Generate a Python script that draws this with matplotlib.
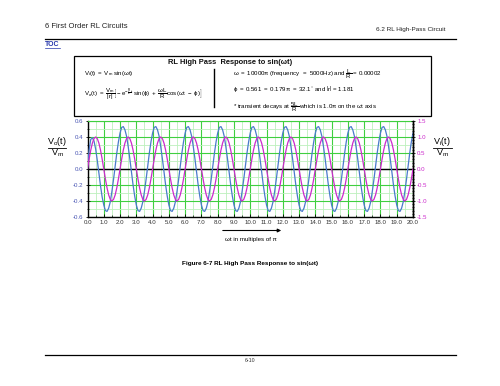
import numpy as np
import matplotlib
matplotlib.use('Agg')
import matplotlib.pyplot as plt
from matplotlib.lines import Line2D
from matplotlib.patches import Rectangle
from matplotlib.ticker import FixedLocator, FixedFormatter, MultipleLocator

plt.rcParams['font.family'] = ['Liberation Sans', 'DejaVu Sans']
plt.rcParams['mathtext.fontset'] = 'custom'
plt.rcParams['mathtext.rm'] = 'Liberation Sans'
plt.rcParams['mathtext.it'] = 'Liberation Sans'
plt.rcParams['mathtext.bf'] = 'Liberation Sans:bold'
plt.rcParams['mathtext.sf'] = 'Liberation Sans'
plt.rcParams['axes.unicode_minus'] = False

# ---------------- data ----------------
# omega*t in multiples of pi, sampled every 0.1
wt = np.linspace(0.0, 20.0, 201)

# Vo(t)/Vm  (left axis)
vo = [
    0.00, 0.24, 0.37, 0.39, 0.35, 0.25, 0.11, -0.05, -0.21, -0.35, -0.45, -0.52, -0.53, -0.49, -0.41, -0.28, -0.13, 0.04, 0.20, 0.34,
    0.45, 0.52, 0.53, 0.49, 0.41, 0.28, 0.13, -0.04, -0.20, -0.34, -0.45, -0.52, -0.53, -0.49, -0.41, -0.28, -0.13, 0.04, 0.20, 0.34,
    0.45, 0.52, 0.53, 0.49, 0.41, 0.28, 0.13, -0.04, -0.20, -0.34, -0.45, -0.52, -0.53, -0.49, -0.41, -0.28, -0.13, 0.04, 0.20, 0.34,
    0.45, 0.52, 0.53, 0.49, 0.41, 0.28, 0.13, -0.04, -0.20, -0.34, -0.45, -0.52, -0.53, -0.49, -0.41, -0.28, -0.13, 0.04, 0.20, 0.34,
    0.45, 0.52, 0.53, 0.49, 0.41, 0.28, 0.13, -0.04, -0.20, -0.34, -0.45, -0.52, -0.53, -0.49, -0.41, -0.28, -0.13, 0.04, 0.20, 0.34,
    0.45, 0.52, 0.53, 0.49, 0.41, 0.28, 0.13, -0.04, -0.20, -0.34, -0.45, -0.52, -0.53, -0.49, -0.41, -0.28, -0.13, 0.04, 0.20, 0.34,
    0.45, 0.52, 0.53, 0.49, 0.41, 0.28, 0.13, -0.04, -0.20, -0.34, -0.45, -0.52, -0.53, -0.49, -0.41, -0.28, -0.13, 0.04, 0.20, 0.34,
    0.45, 0.52, 0.53, 0.49, 0.41, 0.28, 0.13, -0.04, -0.20, -0.34, -0.45, -0.52, -0.53, -0.49, -0.41, -0.28, -0.13, 0.04, 0.20, 0.34,
    0.45, 0.52, 0.53, 0.49, 0.41, 0.28, 0.13, -0.04, -0.20, -0.34, -0.45, -0.52, -0.53, -0.49, -0.41, -0.28, -0.13, 0.04, 0.20, 0.34,
    0.45, 0.52, 0.53, 0.49, 0.41, 0.28, 0.13, -0.04, -0.20, -0.34, -0.45, -0.52, -0.53, -0.49, -0.41, -0.28, -0.13, 0.04, 0.20, 0.34,
    0.45,
]

# Vi(t)/Vm  (right axis)
vi = [
    0.00, 0.31, 0.59, 0.81, 0.95, 1.00, 0.95, 0.81, 0.59, 0.31, 0.00, -0.31, -0.59, -0.81, -0.95, -1.00, -0.95, -0.81, -0.59, -0.31,
    0.00, 0.31, 0.59, 0.81, 0.95, 1.00, 0.95, 0.81, 0.59, 0.31, 0.00, -0.31, -0.59, -0.81, -0.95, -1.00, -0.95, -0.81, -0.59, -0.31,
    0.00, 0.31, 0.59, 0.81, 0.95, 1.00, 0.95, 0.81, 0.59, 0.31, 0.00, -0.31, -0.59, -0.81, -0.95, -1.00, -0.95, -0.81, -0.59, -0.31,
    0.00, 0.31, 0.59, 0.81, 0.95, 1.00, 0.95, 0.81, 0.59, 0.31, 0.00, -0.31, -0.59, -0.81, -0.95, -1.00, -0.95, -0.81, -0.59, -0.31,
    0.00, 0.31, 0.59, 0.81, 0.95, 1.00, 0.95, 0.81, 0.59, 0.31, 0.00, -0.31, -0.59, -0.81, -0.95, -1.00, -0.95, -0.81, -0.59, -0.31,
    0.00, 0.31, 0.59, 0.81, 0.95, 1.00, 0.95, 0.81, 0.59, 0.31, 0.00, -0.31, -0.59, -0.81, -0.95, -1.00, -0.95, -0.81, -0.59, -0.31,
    0.00, 0.31, 0.59, 0.81, 0.95, 1.00, 0.95, 0.81, 0.59, 0.31, 0.00, -0.31, -0.59, -0.81, -0.95, -1.00, -0.95, -0.81, -0.59, -0.31,
    0.00, 0.31, 0.59, 0.81, 0.95, 1.00, 0.95, 0.81, 0.59, 0.31, 0.00, -0.31, -0.59, -0.81, -0.95, -1.00, -0.95, -0.81, -0.59, -0.31,
    0.00, 0.31, 0.59, 0.81, 0.95, 1.00, 0.95, 0.81, 0.59, 0.31, 0.00, -0.31, -0.59, -0.81, -0.95, -1.00, -0.95, -0.81, -0.59, -0.31,
    0.00, 0.31, 0.59, 0.81, 0.95, 1.00, 0.95, 0.81, 0.59, 0.31, 0.00, -0.31, -0.59, -0.81, -0.95, -1.00, -0.95, -0.81, -0.59, -0.31,
    0.00,
]

x_ticks = [0, 1, 2, 3, 4, 5, 6, 7, 8, 9, 10, 11, 12, 13, 14, 15, 16, 17, 18, 19, 20]
x_tick_labels = ['0.0', '1.0', '2.0', '3.0', '4.0', '5.0', '6.0', '7.0', '8.0', '9.0', '10.0',
                 '11.0', '12.0', '13.0', '14.0', '15.0', '16.0', '17.0', '18.0', '19.0', '20.0']
left_ticks = [-0.6, -0.4, -0.2, 0.0, 0.2, 0.4, 0.6]
left_tick_labels = ['-0.6', '-0.4', '-0.2', '0.0', '0.2', '0.4', '0.6']
right_ticks = [-1.5, -1.0, -0.5, 0.0, 0.5, 1.0, 1.5]
right_tick_labels = ['-1.5', '-1.0', '-0.5', '0.0', '0.5', '1.0', '1.5']

# ---------------- figure ----------------
W, H = 500, 386
fig = plt.figure(figsize=(W / 100, H / 100), dpi=100)
fig.patch.set_facecolor('white')


def fx(px):
    return px / W


def fy(py):
    return 1 - py / H


BLUE = '#4a7acc'
MAG = '#cc2acc'
GMAJ = '#3fcf3f'
GMIN = '#bdf0bd'
LBL_BLUE = '#4a56b4'

ax = fig.add_axes([fx(87.5), fy(217), (413 - 87.5) / W, (217 - 121) / H])
ax.set_xlim(0, 20)
ax.set_ylim(-0.6, 0.6)

ax.xaxis.set_major_locator(FixedLocator(x_ticks))
ax.xaxis.set_major_formatter(FixedFormatter(x_tick_labels))
ax.xaxis.set_minor_locator(MultipleLocator(0.5))
ax.yaxis.set_major_locator(FixedLocator(left_ticks))
ax.yaxis.set_major_formatter(FixedFormatter(left_tick_labels))
ax.yaxis.set_minor_locator(MultipleLocator(0.1))

ax.grid(which='minor', color=GMIN, lw=0.6, zorder=0)
ax.grid(which='major', color=GMAJ, lw=0.8, zorder=0)
ax.set_axisbelow(True)
ax.axhline(0, color='black', lw=1.0, zorder=2)

ax.plot(wt, vo, color=BLUE, lw=0.9, zorder=3)

for side in ['left', 'bottom', 'right']:
    ax.spines[side].set_color('black')
    ax.spines[side].set_linewidth(1.0)
ax.spines['top'].set_color(GMAJ)
ax.spines['top'].set_linewidth(0.8)

ax.tick_params(axis='x', which='major', labelsize=4.4, labelcolor='#333333',
               direction='in', length=2.5, width=0.6, pad=2.5)
ax.tick_params(axis='x', which='minor', direction='in', length=1.5, width=0.5)
ax.tick_params(axis='y', which='major', labelsize=4.4, labelcolor=LBL_BLUE,
               direction='inout', length=3, width=0.6, pad=1.5)
ax.tick_params(axis='y', which='minor', direction='inout', length=2, width=0.5)

ax2 = ax.twinx()
ax2.set_ylim(-1.5, 1.5)
ax2.yaxis.set_major_locator(FixedLocator(right_ticks))
ax2.yaxis.set_major_formatter(FixedFormatter(right_tick_labels))
ax2.yaxis.set_minor_locator(MultipleLocator(0.1))
ax2.plot(wt, vi, color=MAG, lw=0.9, zorder=3)
for side in ['left', 'bottom', 'top']:
    ax2.spines[side].set_visible(False)
ax2.spines['right'].set_color('black')
ax2.spines['right'].set_linewidth(1.0)
ax2.tick_params(axis='y', which='major', labelsize=4.4, labelcolor=MAG,
                direction='inout', length=3, width=0.6, pad=1.5)
ax2.tick_params(axis='y', which='minor', direction='inout', length=1.6, width=0.5)

# ---------------- page decorations ----------------
fig.text(fx(45), fy(27), '6 First Order RL Circuits', fontsize=5.5, ha='left', va='center', color='#222222')
fig.text(fx(445), fy(29), '6.2 RL High-Pass Circuit', fontsize=4.6, ha='right', va='center', color='#222222')
fig.add_artist(Line2D([fx(45), fx(456)], [fy(39), fy(39)], color='black', lw=0.9))
fig.text(fx(45), fy(44), 'TOC', fontsize=5, fontweight='bold', ha='left', va='center', color='#2233aa')
fig.add_artist(Line2D([fx(45), fx(60)], [fy(47.5), fy(47.5)], color='#2233aa', lw=0.5))

# formula box
fig.add_artist(Rectangle((fx(74), fy(116)), (431 - 74) / W, (116 - 56) / H,
                         fill=False, edgecolor='black', lw=0.9))
fig.text(fx(168), fy(62), 'RL High Pass  Response to sin(\u03c9t)', fontsize=5.4,
         fontweight='bold', ha='left', va='center', color='#111111')
fig.text(fx(84), fy(74), r'$V_i(t)\ =\ V_m\ \sin(\omega t)$', fontsize=4.4, ha='left', va='center')
fig.text(fx(84), fy(94),
         r'$V_o(t)\ =\ \dfrac{V_m}{|r|}\left[-\ e^{-\frac{R}{L}t}\ \sin(\phi)\ +\ \dfrac{\omega L}{R}\cos(\omega t\ -\ \phi)\right]$',
         fontsize=4.4, ha='left', va='center')
fig.add_artist(Line2D([fx(214), fx(214)], [fy(69), fy(107)], color='black', lw=1.0))
fig.text(fx(233), fy(74),
         r'$\omega\ =\ 10000\pi$ (frequency  =  5000Hz) and $\dfrac{L}{R}$ = 0.00002',
         fontsize=4.4, ha='left', va='center')
fig.text(fx(233), fy(89),
         r'$\phi\ =\ 0.561\ =\ 0.179\pi\ =\ 32.1^{\circ}$ and $\left|r\right|$ = 1.181',
         fontsize=4.4, ha='left', va='center')
fig.text(fx(233), fy(107),
         r'* transient decays at $\dfrac{5L}{R}$ which is 1.0$\pi$ on the $\omega t$ axis',
         fontsize=4.4, ha='left', va='center')

# axis side labels (fractions)
fig.text(fx(57), fy(141), r'$V_o(t)$', fontsize=6.5, ha='center', va='center')
fig.add_artist(Line2D([fx(48), fx(66)], [fy(147.5), fy(147.5)], color='black', lw=0.6))
fig.text(fx(57), fy(153), r'$V_m$', fontsize=6.5, ha='center', va='center')

fig.text(fx(442), fy(141), r'$V_i(t)$', fontsize=6.5, ha='center', va='center')
fig.add_artist(Line2D([fx(433), fx(452)], [fy(147.5), fy(147.5)], color='black', lw=0.6))
fig.text(fx(442), fy(153), r'$V_m$', fontsize=6.5, ha='center', va='center')

# x label with arrow
fig.add_artist(matplotlib.patches.FancyArrowPatch((fx(220), fy(230.5)), (fx(284), fy(230.5)),
                                                  transform=fig.transFigure, arrowstyle='-|>',
                                                  mutation_scale=5, lw=0.8, color='black'))
fig.text(fx(251), fy(239), '\u03c9t in multiples of \u03c0', fontsize=4.4, ha='center', va='center')

# caption
fig.text(fx(250), fy(263), 'Figure 6-7 RL High Pass Response to sin(\u03c9t)', fontsize=4.6,
         fontweight='bold', ha='center', va='center')

# footer
fig.add_artist(Line2D([fx(45), fx(456)], [fy(355), fy(355)], color='black', lw=0.9))
fig.text(fx(250), fy(361), '6-10', fontsize=3.8, ha='center', va='center', color='#333333')

fig.savefig('out.png', dpi=100, facecolor='white')
